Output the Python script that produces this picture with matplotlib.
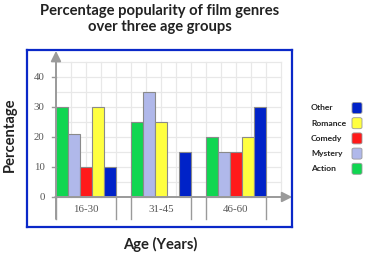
import numpy as np
import matplotlib
matplotlib.use('Agg')
import matplotlib.pyplot as plt
from matplotlib.patches import Rectangle, FancyBboxPatch

age_groups = ['16-30', '31-45', '46-60']
genres = ['Action', 'Mystery', 'Comedy', 'Romance', 'Other']
action = [30, 25, 20]
mystery = [21, 35, 15]
comedy = [10, 0, 15]
romance = [30, 25, 20]
other = [10, 15, 30]
y_ticks = [0, 10, 20, 30, 40]

colors = ['#10d651', '#b0b8ea', '#ff1a1a', '#ffff40', '#0022c8']
# slot order of each genre inside a group (31-45 leaves its empty slot before Other)
slots = [[0, 1, 2, 3, 4], [0, 1, 3, 2, 4], [0, 1, 2, 3, 4]]

AXIS = '#9a9a9a'
GRID = '#e8e8e8'
BLUE = '#0a28c8'
plt.rcParams['font.family'] = ['Lato', 'DejaVu Sans']


def main():
    values = [action, mystery, comedy, romance, other]
    W, H = 366, 254
    fig = plt.figure(figsize=(W / 100, H / 100), dpi=100)
    ax = fig.add_axes([27 / W, (H - 227) / H, 265 / W, 177 / H])
    ax.set_xlim(-29 / 15, 236 / 15)
    ax.set_ylim(-10, 49)
    ax.set_xticks([])
    ax.set_yticks([])
    for s in ax.spines.values():
        s.set_color(BLUE)
        s.set_linewidth(1.6)

    # grid
    for gy in range(5, 50, 5):
        ax.plot([0, 15], [gy, gy], color=GRID, lw=0.9, zorder=1)
    for gx in range(1, 16):
        ax.plot([gx, gx], [0, 45], color=GRID, lw=0.9, zorder=1)

    bw = 0.8
    gap = 5
    for g in range(len(age_groups)):
        for k in range(len(genres)):
            v = values[k][g]
            if v == 0:
                continue
            x0 = g * gap + slots[g][k] * bw
            ax.bar(x0, v, width=bw, align='edge', color=colors[k],
                   edgecolor='#8a8a8a', linewidth=0.8, zorder=3)
        ax.text(g * gap + 2, -4.2, age_groups[g], ha='center', va='center',
                family='Liberation Serif', fontsize=7.8, color='#555555')
        for sx in (g * gap, g * gap + 4):
            ax.plot([sx, sx], [0, -7.3], color=AXIS, lw=1.0, zorder=2)

    # axes with arrows
    ax.annotate('', xy=(15.75, 0), xytext=(-0.05, 0),
                arrowprops=dict(arrowstyle='-|>,head_length=0.6,head_width=0.3',
                                color=AXIS, lw=1.4, shrinkA=0, shrinkB=0), zorder=4)
    ax.annotate('', xy=(0, 48.7), xytext=(0, -7.3),
                arrowprops=dict(arrowstyle='-|>,head_length=0.6,head_width=0.3',
                                color=AXIS, lw=1.4, shrinkA=0, shrinkB=0), zorder=4)
    for t in y_ticks:
        ax.plot([-0.3, 0], [t, t], color=AXIS, lw=1.0, zorder=4)
        ax.text(-0.75, t, str(t), ha='right', va='center',
                family='Liberation Serif', fontsize=7.8, color='#555555')

    fig.text(160 / W, 1 - 19 / H, 'Percentage popularity of film genres\nover three age groups',
             ha='center', va='center', fontsize=10.6, fontweight='bold',
             color='#222222', linespacing=1.25)
    fig.text(10 / W, 1 - 135 / H, 'Percentage', rotation=90, ha='center', va='center',
             fontsize=10.6, fontweight='bold', color='#222222')
    fig.text(160 / W, 1 - 244 / H, 'Age (Years)', ha='center', va='center',
             fontsize=10.6, fontweight='bold', color='#222222')

    # legend, top to bottom: Other .. Action
    for i, k in enumerate(range(len(genres) - 1, -1, -1)):
        yc = 108 + i * 15.2
        fig.text(311 / W, 1 - yc / H, genres[k], ha='left', va='center',
                 fontsize=6.1, fontweight='bold', color='#222222')
        box = FancyBboxPatch(((352) / W, 1 - (yc + 5.5) / H), 10 / W, 11 / H,
                             boxstyle='round,pad=0,rounding_size=0.006',
                             transform=fig.transFigure, facecolor=colors[k],
                             edgecolor='#9a9a9a', linewidth=0.6)
        fig.patches.append(box)

    fig.savefig('out.png', dpi=100)


if __name__ == "__main__":
    main()
